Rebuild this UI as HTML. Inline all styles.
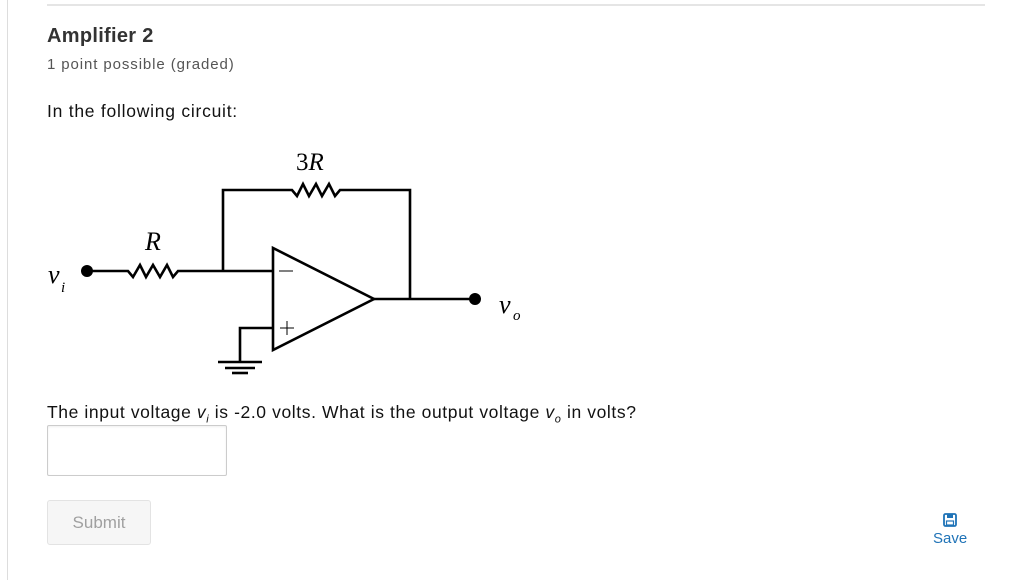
<!DOCTYPE html>
<html><head><meta charset="utf-8"><style>
body{margin:0;width:1024px;height:580px;background:#fff;position:relative;overflow:hidden;font-family:"Liberation Sans",sans-serif;color:#313131}
.a{position:absolute;white-space:nowrap}
</style></head><body>
<div class="a" style="left:7px;top:0;width:1px;height:580px;background:#ddd"></div>
<div class="a" style="left:47px;top:4px;width:938px;height:2px;background:#e5e5e5"></div>
<div class="a" style="left:47px;top:25px;font-size:20px;font-weight:bold;color:#333;letter-spacing:0.3px">Amplifier 2</div>
<div class="a" style="left:47px;top:56px;font-size:15px;color:#555;letter-spacing:0.9px">1 point possible (graded)</div>
<div class="a" style="left:47px;top:101px;font-size:17.5px;color:#111;letter-spacing:0.75px">In the following circuit:</div>
<svg class="a" style="left:0;top:0" width="1024" height="580">
<g fill="none" stroke="#000" stroke-width="2.6" stroke-linejoin="miter">
<polyline points="87,271 128,271 133,277 140,265 146,277 153,265 160,277 167,265 173,277 178,271 223,271 273,271"/>
<polyline points="223,271 223,190 292,190 297,196 303,184 309,196 316,184 322,196 329,184 335,196 340,190 410,190 410,299"/>
<polygon points="273,248 273,350 374,299"/>
<line x1="374" y1="299" x2="475" y2="299"/>
<polyline points="273,328 240,328 240,362"/>
<line x1="218" y1="362" x2="262" y2="362"/>
<line x1="225" y1="368" x2="255" y2="368"/>
<line x1="232" y1="373" x2="248" y2="373"/>
</g>
<g stroke="#000" stroke-width="1"><line x1="279" y1="271" x2="293" y2="271"/><line x1="280" y1="328" x2="294" y2="328"/><line x1="287" y1="321" x2="287" y2="335"/></g>
<circle cx="87" cy="271" r="6" fill="#000"/><circle cx="475" cy="299" r="6" fill="#000"/>
<g font-family="'Liberation Serif',serif" font-style="italic" font-size="26" fill="#000">
<text x="48" y="283">v</text><text x="61" y="292" font-size="15">i</text>
<text x="499" y="313">v</text><text x="513" y="320" font-size="15">o</text>
<text x="145" y="250">R</text>
</g>
<text x="296" y="170" font-family="'Liberation Serif',serif" font-size="25" fill="#000">3<tspan font-style="italic">R</tspan></text>
</svg>
<div class="a" style="left:47px;top:402px;font-size:17.5px;color:#111;letter-spacing:0.6px">The input voltage <i>v<sub style="font-size:11px">i</sub></i> is -2.0 volts. What is the output voltage <i>v<sub style="font-size:11px">o</sub></i> in volts?</div>
<div class="a" style="left:47px;top:425px;width:178px;height:49px;border:1px solid #ccc;border-radius:2px;box-shadow:inset 0 1px 2px #eee"></div>
<div class="a" style="left:47px;top:500px;width:102px;height:43px;border:1px solid #e3e3e3;border-radius:3px;background:#f6f6f6;color:#a0a0a0;font-size:17px;text-align:center;line-height:43px">Submit</div>
<svg class="a" style="left:943px;top:513px" width="14" height="14"><rect x="1" y="1" width="12" height="12" rx="1.5" fill="none" stroke="#1f73b7" stroke-width="1.8"/><rect x="4" y="1" width="6" height="4" fill="#1f73b7"/><rect x="3.5" y="8" width="7" height="4" fill="none" stroke="#1f73b7" stroke-width="1.2"/></svg>
<div class="a" style="left:933px;top:530px;font-size:15px;color:#1f73b7">Save</div>
</body></html>
